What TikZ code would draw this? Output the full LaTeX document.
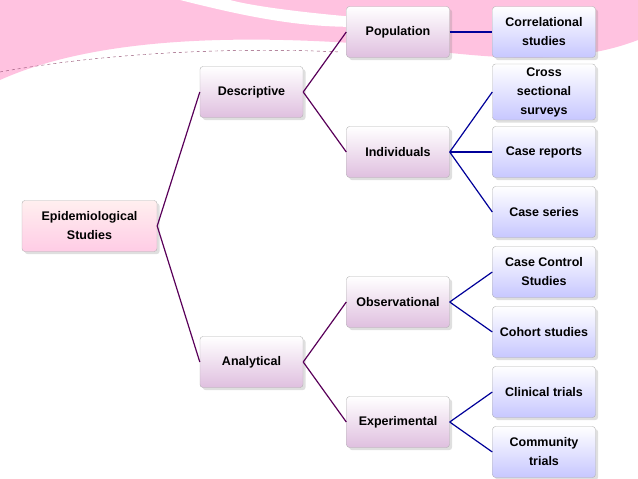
\documentclass[tikz,border=0pt]{standalone}
\usepackage{fontspec}
\setmainfont{Liberation Sans}
\usepackage{tikz}

\tikzset{
  box/.style={draw=gray!60, rounded corners=3pt, minimum width=103pt, minimum height=51pt,
    align=center, font=\bfseries\fontsize{12.5}{19}\selectfont, drop shadow={opacity=.25}},
  rootbox/.style={box, top color=pink!25, bottom color=pink!80!magenta!50, minimum width=135pt},
  midbox/.style={box, top color=white, bottom color=violet!25},
  leafbox/.style={box, top color=white, bottom color=blue!22},
  trunk/.style={violet!70!black, line width=1.2pt},
  twig/.style={blue!60!black, line width=1.2pt}
}
\usetikzlibrary{shadows}

\begin{document}
\begin{tikzpicture}[x=1pt,y=-1pt]
      \useasboundingbox (0,0) rectangle (638,479);
      % background waves
      \fill[pink!80!magenta!60] (0,0) -- (638,0) -- (638,40)
        .. controls (560,70) and (470,55) .. (380,45)
        .. controls (250,35) and (100,35) .. (0,80) -- cycle;
      \fill[white] (180,0) .. controls (260,20) and (330,35) .. (420,22)
        .. controls (330,16) and (260,8) .. (230,0) -- cycle;
      \draw[magenta!50!black, dashed, thin] (0,72) .. controls (150,45) and (300,50) .. (340,52);

      \node[rootbox] (epi) at (89.5,226) {Epidemiological\\Studies};
      \node[midbox] (desc) at (251.5,92) {Descriptive};
      \node[midbox] (anal) at (251.5,362) {Analytical};

      \node[midbox] (pop) at (398,32) {Population};
      \node[midbox] (ind) at (398,152) {Individuals};
      \node[midbox] (obs) at (398,302) {Observational};
      \node[midbox] (exp) at (398,422) {Experimental};

      \node[leafbox] (corr) at (544,32) {Correlational\\studies};
      \node[leafbox] (cross) at (544,92) {Cross\\sectional\\surveys};
      \node[leafbox] (rep) at (544,152) {Case reports};
      \node[leafbox] (ser) at (544,212) {Case series};
      \node[leafbox] (cc) at (544,272) {Case Control\\Studies};
      \node[leafbox] (coh) at (544,332) {Cohort studies};
      \node[leafbox] (clin) at (544,392) {Clinical trials};
      \node[leafbox] (comm) at (544,452) {Community\\trials};

      \draw[trunk] (epi.east) -- (desc.west);
      \draw[trunk] (epi.east) -- (anal.west);
      \draw[trunk] (desc.east) -- (pop.west);
      \draw[trunk] (desc.east) -- (ind.west);
      \draw[trunk] (anal.east) -- (obs.west);
      \draw[trunk] (anal.east) -- (exp.west);

      \draw[twig] (pop.east) -- (corr.west);
      \foreach \n in {cross,rep,ser} \draw[twig] (ind.east) -- (\n.west);
      \foreach \n in {cc,coh} \draw[twig] (obs.east) -- (\n.west);
      \foreach \n in {clin,comm} \draw[twig] (exp.east) -- (\n.west);
\end{tikzpicture}
\end{document}
